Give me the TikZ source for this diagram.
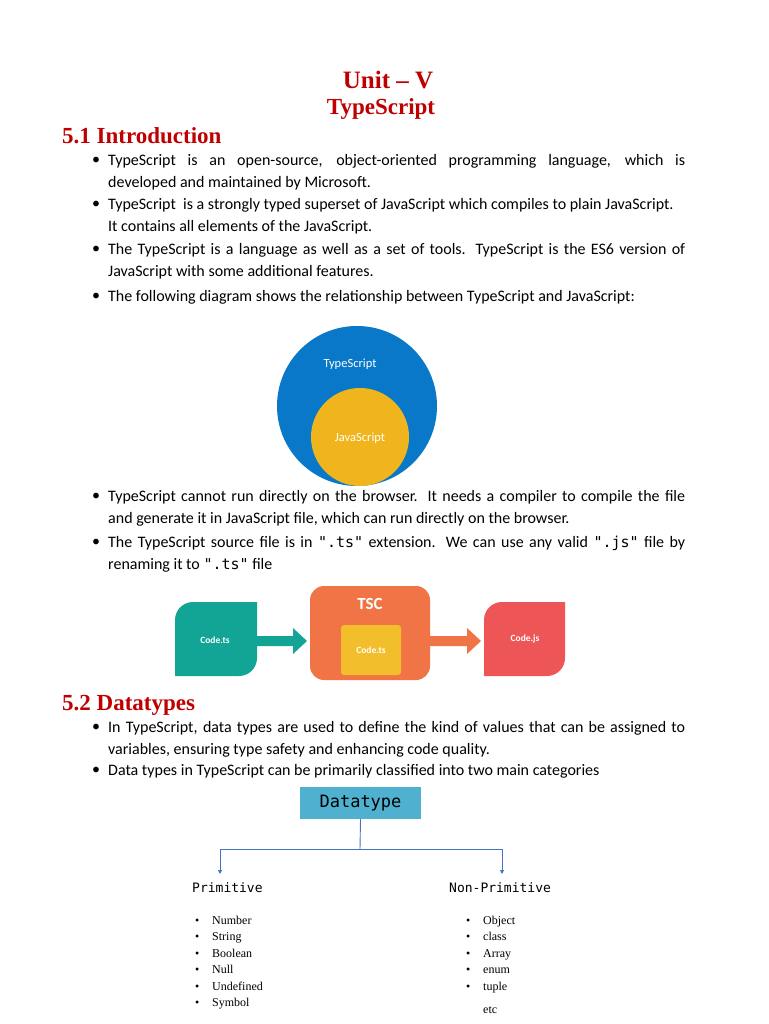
\documentclass[tikz,border=0pt]{standalone}
\usepackage{fontspec}
\setmainfont{Carlito}
\newfontfamily\headf{Liberation Serif}
\newfontfamily\monof{DejaVu Sans Mono}
\newfontfamily\listf{Liberation Serif}
\usetikzlibrary{arrows.meta}
\definecolor{hred}{HTML}{C00000}
\definecolor{tsblue}{HTML}{0A78C8}
\definecolor{jsyel}{HTML}{F0B41C}
\definecolor{teal1}{HTML}{12A595}
\definecolor{orng}{HTML}{F07446}
\definecolor{yel2}{HTML}{F2BE2C}
\definecolor{red2}{HTML}{EE5556}
\definecolor{dtblue}{HTML}{4FB1CF}
\definecolor{lnblue}{HTML}{4472C4}
\tikzset{
 x=1pt,y=-1pt,
 body/.style={anchor=west,inner sep=0,font=\fontsize{16}{18}\selectfont},
 bul/.style={anchor=center,inner sep=0,font=\fontsize{16}{18}\selectfont},
 head/.style={inner sep=0,text=hred,font=\headf\bfseries\fontsize{23}{25}\selectfont},
 lst/.style={anchor=west,inner sep=0,font=\listf\fontsize{12}{13}\selectfont},
 sub/.style={anchor=west,inner sep=0,font=\monof\fontsize{13}{14}\selectfont},
 wt/.style={text=white,inner sep=0,font=\bfseries\fontsize{9.5}{10}\selectfont},
}
\newcommand{\jl}[1]{\makebox[577pt][s]{#1}}
\newcommand{\cd}[1]{{\monof\fontsize{15}{18}\selectfont #1}}
\newcommand{\li}[1]{\makebox[17pt][l]{\textbullet}#1}
\begin{document}
\begin{tikzpicture}
\useasboundingbox[fill=white] (0,0) rectangle (768,1024);
\node[head,font=\headf\bfseries\fontsize{25}{27}\selectfont] (t1) at (388,80) {Unit – V};
\node[head] (t2) at (381,109) {TypeScript};
\node[head,anchor=west] (h1) at (62,136) {5.1 Introduction};
\foreach \y in {161,205,250,297,497,543,728,771} \node[bul] at (96,\y) {\textbullet};
\node[body] (l1) at (108,161) {\jl{TypeScript is an open-source, object-oriented programming language, which is}};
\node[body] (l2) at (108,183) {developed and maintained by Microsoft.};
\node[body] (l3) at (108,205) {TypeScript\ \ is a strongly typed superset of JavaScript which compiles to plain JavaScript.};
\node[body] (l4) at (108,227) {It contains all elements of the JavaScript.};
\node[body] (l5) at (108,250) {\jl{The TypeScript is a language as well as a set of tools. TypeScript is the ES6 version of}};
\node[body] (l6) at (108,272) {JavaScript with some additional features.};
\node[body] (l7) at (108,297) {The following diagram shows the relationship between TypeScript and JavaScript:};
\fill[tsblue] (357,406) circle (80);
\fill[jsyel] (360,437) circle (49);
\node[text=white,inner sep=0,font=\fontsize{12.5}{13}\selectfont] (ts) at (350,364) {TypeScript};
\node[text=white,inner sep=0,font=\fontsize{12.5}{13}\selectfont] (js) at (360,438) {JavaScript};
\node[body] (l8) at (108,497) {\jl{TypeScript cannot run directly on the browser. It needs a compiler to compile the file}};
\node[body] (l9) at (108,519) {and generate it in JavaScript file, which can run directly on the browser.};
\node[body] (l10) at (108,543) {\jl{The TypeScript source file is in \cd{".ts"} extension. We can use any valid \cd{".js"} file by}};
\node[body] (l11) at (108,565) {renaming it to \cd{".ts"} file};
% TSC diagram
\fill[teal1] (175,676) [rounded corners=18] -- (175,602) [sharp corners] -- (257,602) [rounded corners=18] -- (257,676) [sharp corners] -- cycle;
\node[wt] (c1) at (215,640) {Code.ts};
\fill[teal1] (257,636) -- (293,636) -- (293,628) -- (307,641) -- (293,654) -- (293,646) -- (257,646) -- cycle;
\fill[orng,rounded corners=14] (310,586) rectangle (430,680);
\node[wt,font=\bfseries\fontsize{17}{18}\selectfont] (tsc) at (370,604) {TSC};
\fill[yel2,rounded corners=3] (341,625) rectangle (401,675);
\node[wt] (c2) at (371,650) {Code.ts};
\fill[orng] (430,636) -- (467,636) -- (467,628) -- (481,641) -- (467,654) -- (467,646) -- (430,646) -- cycle;
\fill[red2] (484,676) [rounded corners=18] -- (484,602) [sharp corners] -- (565,602) [rounded corners=18] -- (565,676) [sharp corners] -- cycle;
\node[wt] (c3) at (525,639) {Code.js};
% 5.2
\node[head,anchor=west] (h2) at (62,705) {5.2 Datatypes};
\node[body] (l12) at (108,728) {\jl{In TypeScript, data types are used to define the kind of values that can be assigned to}};
\node[body] (l13) at (108,750) {variables, ensuring type safety and enhancing code quality.};
\node[body] (l14) at (108,771) {Data types in TypeScript can be primarily classified into two main categories};
\node[fill=dtblue,minimum width=121pt,minimum height=32pt,inner sep=0,font=\monof\fontsize{17}{18}\selectfont] (dt) at (360.5,803) {Datatype};
\coordinate (j) at (360,849);
\coordinate (pa) at (220,874);
\coordinate (na) at (502,874);
\draw[lnblue,line width=0.9pt] (dt.south) -- (j);
\draw[lnblue,line width=0.9pt,-{Triangle[length=4pt,width=4pt]}] (j) -| (pa);
\draw[lnblue,line width=0.9pt,-{Triangle[length=4pt,width=4pt]}] (j) -| (na);
\node[sub] (prim) at (192,888) {Primitive};
\node[sub] (nprim) at (449,888) {Non-Primitive};
\foreach \t [count=\i] in {Number,String,Boolean,Null,Undefined,Symbol}
 \node[lst,anchor=base west] at (195,{907.5+16.5*\i}) {\li{\t}};
\foreach \t [count=\i] in {Object,class,Array,enum,tuple}
 \node[lst,anchor=base west] at (466,{907.5+16.5*\i}) {\li{\t}};
\node[lst] (etc) at (483,1010) {etc};
\end{tikzpicture}
\end{document}
